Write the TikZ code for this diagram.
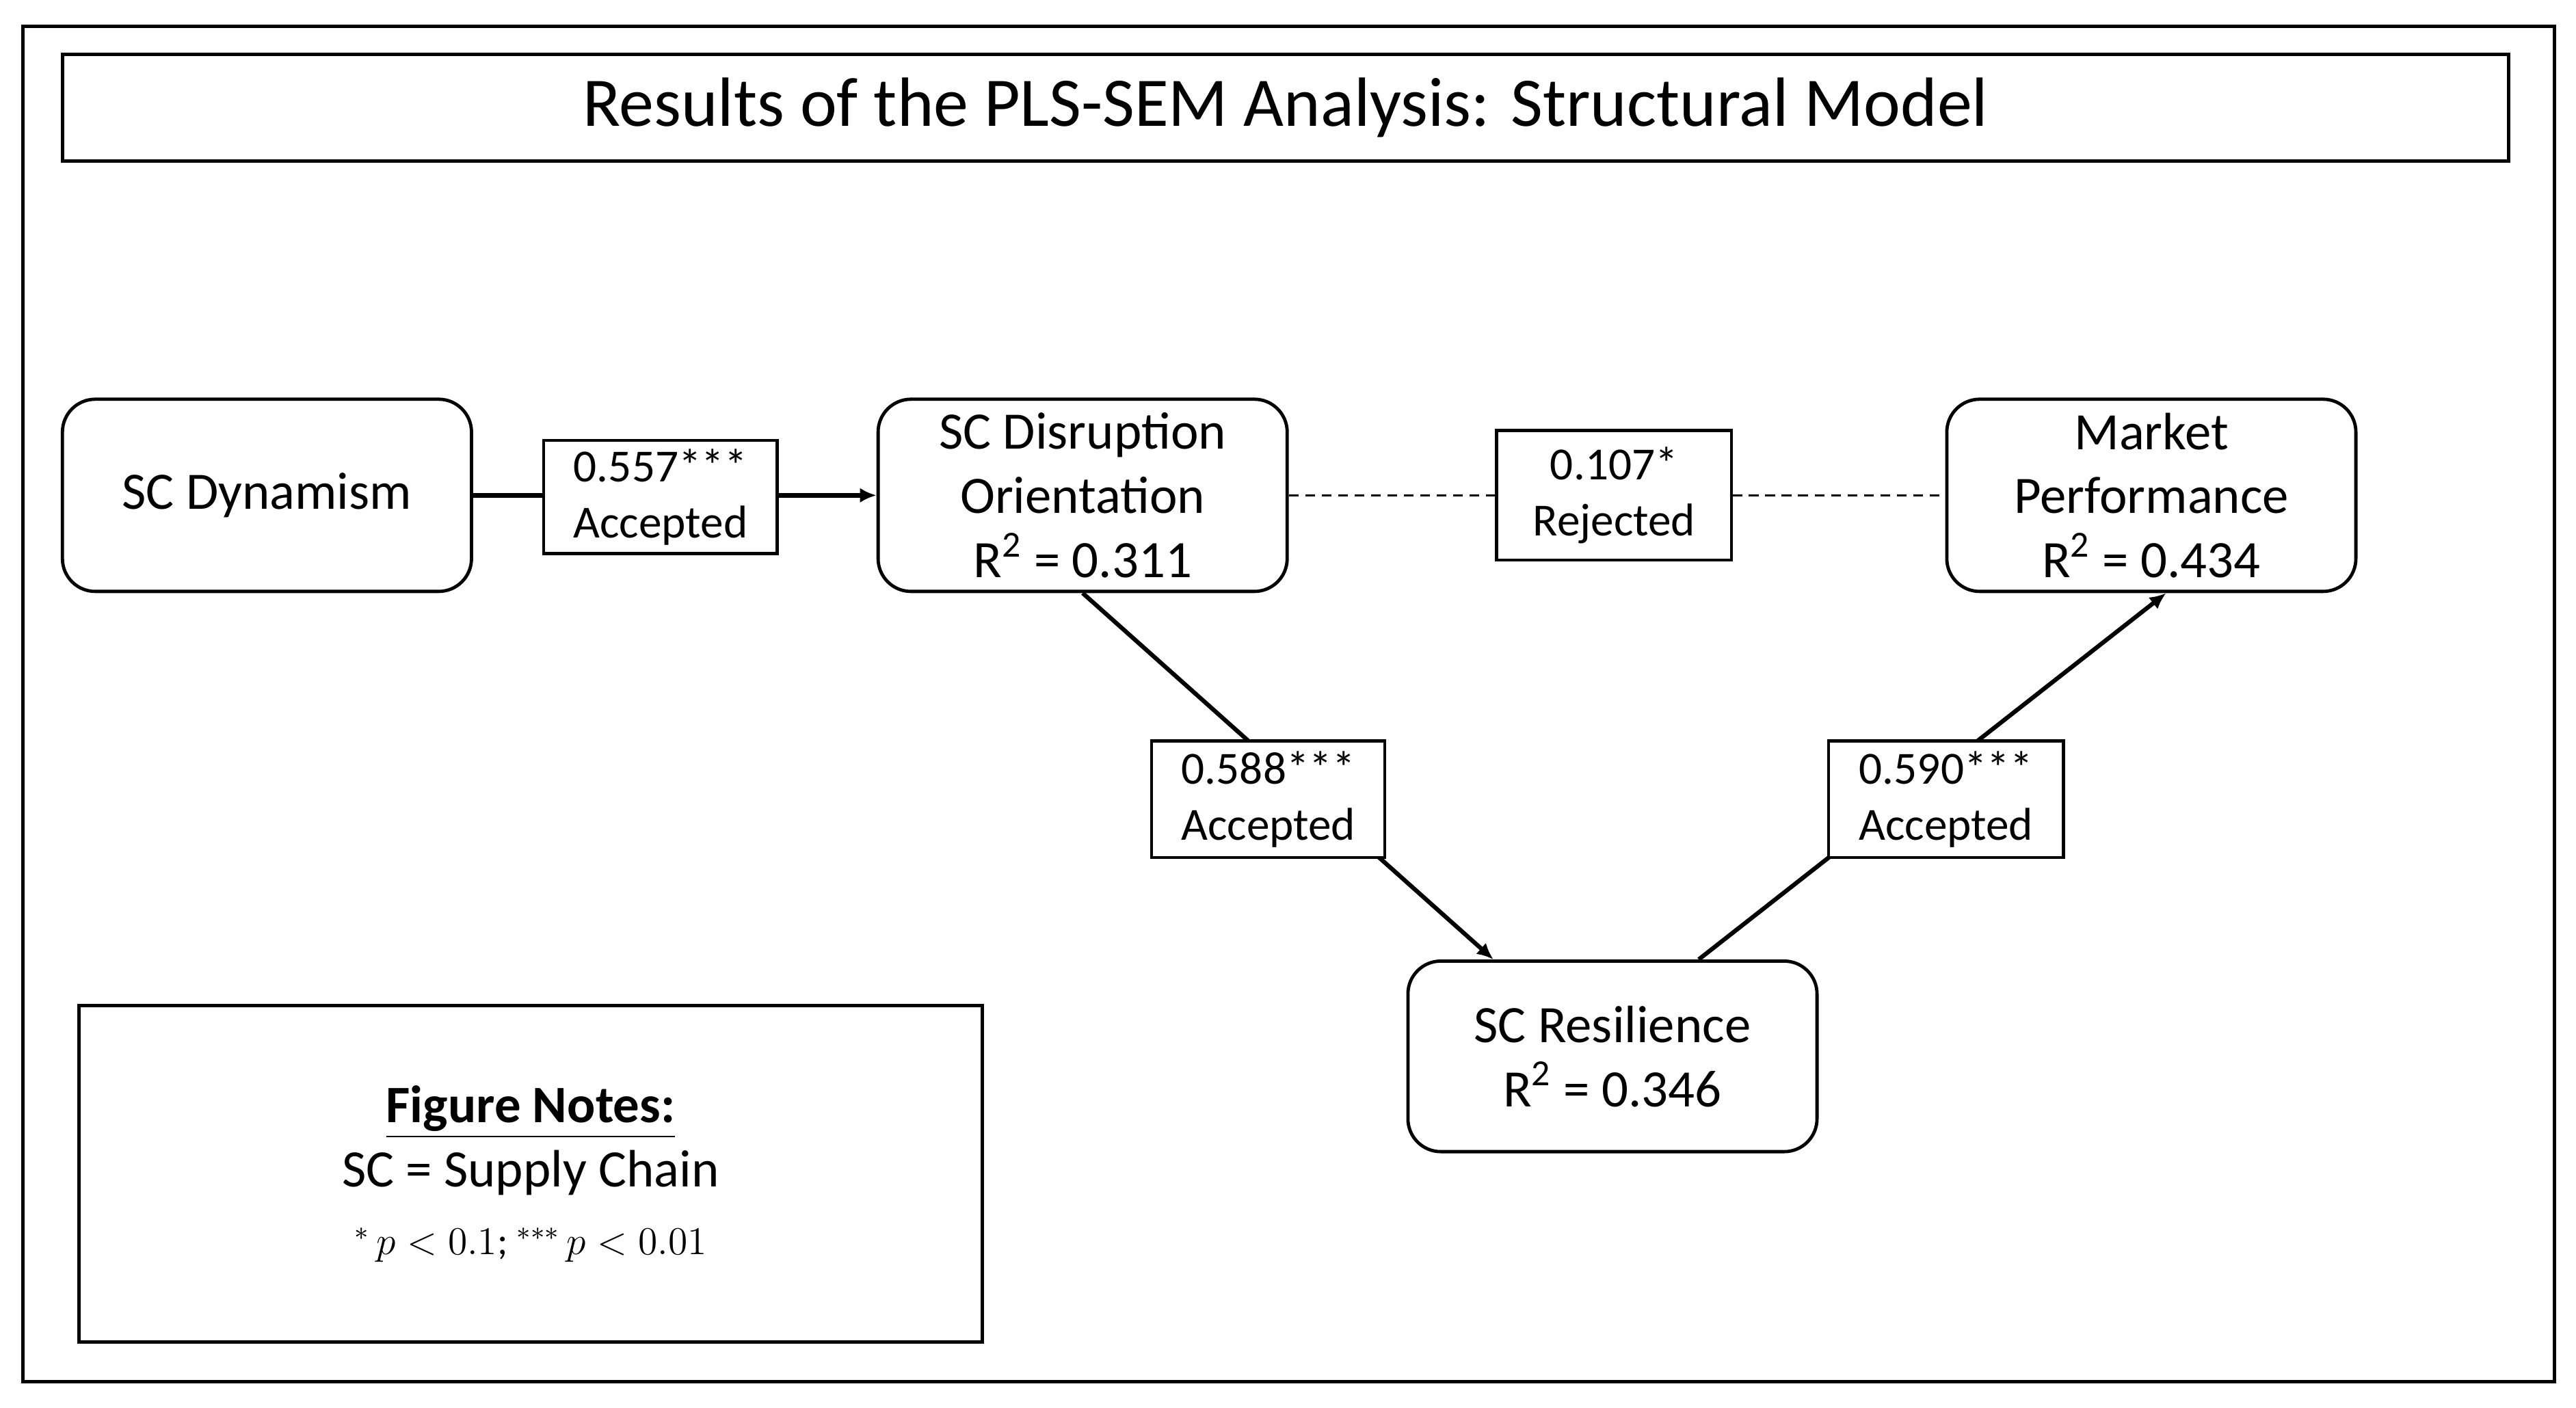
\documentclass[tikz,border=0pt]{standalone}
\usepackage{fontspec}
\setmainfont{Carlito}
\usetikzlibrary{arrows.meta,calc}
\begin{document}
\begin{tikzpicture}[x=0.5pt,y=-0.5pt,
  box/.style={draw, line width=1pt, rounded corners=10pt, align=center,
    font=\fontsize{16}{19.5}\selectfont, minimum width=124.5pt,
    minimum height=58.5pt, inner sep=0pt},
  lab/.style={draw, fill=white, line width=0.9pt, align=center,
    font=\fontsize{14}{17}\selectfont, inner sep=0pt,
    minimum width=71pt, minimum height=35pt},
  solidarrow/.style={line width=1.3pt, -{Latex[length=5pt,width=4.5pt]}},
  dashline/.style={line width=0.6pt, dash pattern=on 3pt off 2pt}]
\useasboundingbox (0,0) rectangle (1568,857);
% outer frame
\node[draw, line width=1pt, minimum width=770.5pt, minimum height=412.5pt, inner sep=0pt] (frame) at (784.5,428.5) {};
% title
\node[draw, line width=1pt, minimum width=744.5pt, minimum height=32.5pt, inner sep=0pt,
  font=\fontsize{21.2}{25}\selectfont] (title) at (782.5,65.5) {Results of the PLS-SEM Analysis: Structural Model};
% construct boxes
\node[box] (dyn) at (162.5,301.5) {SC Dynamism};
\node[box] (sdo) at (659,301.5) {SC Disruption\\Orientation\\R\textsuperscript{2} = 0.311};
\node[box] (mp) at (1309.5,301.5) {Market\\Performance\\R\textsuperscript{2} = 0.434};
\node[box, minimum height=58pt] (res) at (981.5,643) {SC Resilience\\R\textsuperscript{2} = 0.346};
% connectors
\draw[solidarrow, line width=1.6pt] (dyn.east) -- (sdo.west);
\draw[dashline] (sdo.east) -- (mp.west);
\draw[solidarrow] (sdo.south) -- ([xshift=26.5pt]res.north west);
\draw[solidarrow] ([xshift=89pt]res.north west) -- ([xshift=4.5pt]mp.south);
% path labels
\node[lab, minimum height=34.5pt] (l1) at (402,302.5) {0.557***\\Accepted};
\node[lab, minimum width=71.5pt, minimum height=39.5pt] (l2) at (982.5,301.5) {0.107*\\Rejected};
\node[lab, minimum height=35.5pt] (l3) at (772,486.5) {0.588***\\Accepted};
\node[lab, minimum width=71.5pt, minimum height=35.5pt] (l4) at (1184.5,486.5) {0.590***\\Accepted};
% notes
\node[draw, line width=1pt, minimum width=275pt, minimum height=102.5pt, inner sep=0pt,
  align=center, font=\fontsize{16}{19.5}\selectfont] (notes) at (323,714.5)
  {\textbf{\underline{Figure Notes:}}\\SC = Supply Chain\\[1pt]
   {\fontsize{12}{14}\selectfont $^{*}\,p<0.1$; $^{***}\,p<0.01$}};
\end{tikzpicture}
\end{document}
